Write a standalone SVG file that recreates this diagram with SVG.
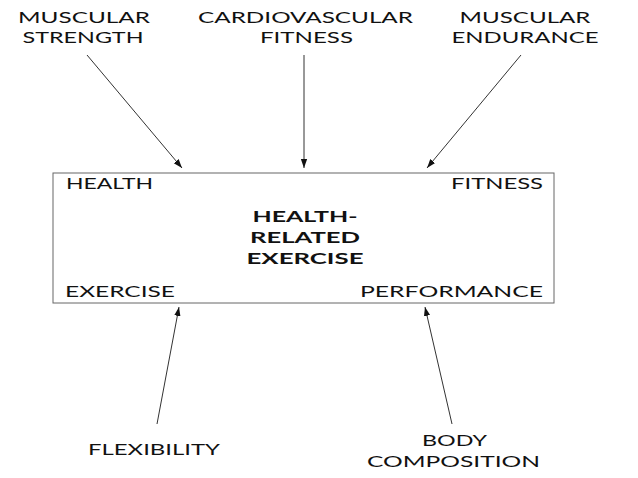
<svg xmlns="http://www.w3.org/2000/svg" width="638" height="478" viewBox="0 0 638 478">
<style>
text{font-family:Lato,"Open Sans","Liberation Sans",sans-serif;font-size:16px;fill:#111;}
.c{text-anchor:middle}
.e{text-anchor:end}
.b{font-weight:bold;font-size:16px}
.ln{stroke:#333;stroke-width:1;fill:none;marker-end:url(#ah)}
</style>
<defs>
<marker id="ah" viewBox="0 0 10 10" refX="10" refY="5" markerWidth="9" markerHeight="9" orient="auto" markerUnits="userSpaceOnUse">
<path d="M0,1.5 L10,5 L0,8.5 z" fill="#111"/>
</marker>
</defs>
<rect width="638" height="478" fill="#fff"/>
<g id="main">
<rect x="53" y="173" width="501" height="130" fill="#fff" stroke="#666" stroke-width="1"/>
<text x="66" y="189" textLength="87" lengthAdjust="spacingAndGlyphs">HEALTH</text>
<text x="451" y="189" textLength="92" lengthAdjust="spacingAndGlyphs">FITNESS</text>
<text x="305" y="222" class="c b" textLength="105" lengthAdjust="spacingAndGlyphs">HEALTH-</text>
<text x="305" y="243" class="c b" textLength="110" lengthAdjust="spacingAndGlyphs">RELATED</text>
<text x="305" y="264" class="c b" textLength="117" lengthAdjust="spacingAndGlyphs">EXERCISE</text>
<text x="65" y="297" textLength="110" lengthAdjust="spacingAndGlyphs">EXERCISE</text>
<text x="360" y="297" textLength="183" lengthAdjust="spacingAndGlyphs">PERFORMANCE</text>
</g>
<g id="strength"><text x="84" y="23" class="c" textLength="132" lengthAdjust="spacingAndGlyphs">MUSCULAR</text><text x="83" y="43" class="c" textLength="121" lengthAdjust="spacingAndGlyphs">STRENGTH</text></g>
<g id="cardio"><text x="305.5" y="23" class="c" textLength="215" lengthAdjust="spacingAndGlyphs">CARDIOVASCULAR</text><text x="306.5" y="43" class="c" textLength="93" lengthAdjust="spacingAndGlyphs">FITNESS</text></g>
<g id="endurance"><text x="525" y="23" class="c" textLength="131" lengthAdjust="spacingAndGlyphs">MUSCULAR</text><text x="525" y="43" class="c" textLength="147" lengthAdjust="spacingAndGlyphs">ENDURANCE</text></g>
<g id="flexibility"><text x="154" y="455" class="c" textLength="132" lengthAdjust="spacingAndGlyphs">FLEXIBILITY</text></g>
<g id="body"><text x="454.5" y="446" class="c" textLength="65" lengthAdjust="spacingAndGlyphs">BODY</text><text x="453.5" y="467" class="c" textLength="173" lengthAdjust="spacingAndGlyphs">COMPOSITION</text></g>
<g id="connectors">
<line x1="87" y1="55" x2="182" y2="168" class="ln"/>
<line x1="304" y1="55" x2="304" y2="168" class="ln"/>
<line x1="521" y1="55" x2="427" y2="168" class="ln"/>
<line x1="157" y1="424" x2="179" y2="307" class="ln"/>
<line x1="452" y1="424" x2="425" y2="307" class="ln"/>
</g>
</svg>
